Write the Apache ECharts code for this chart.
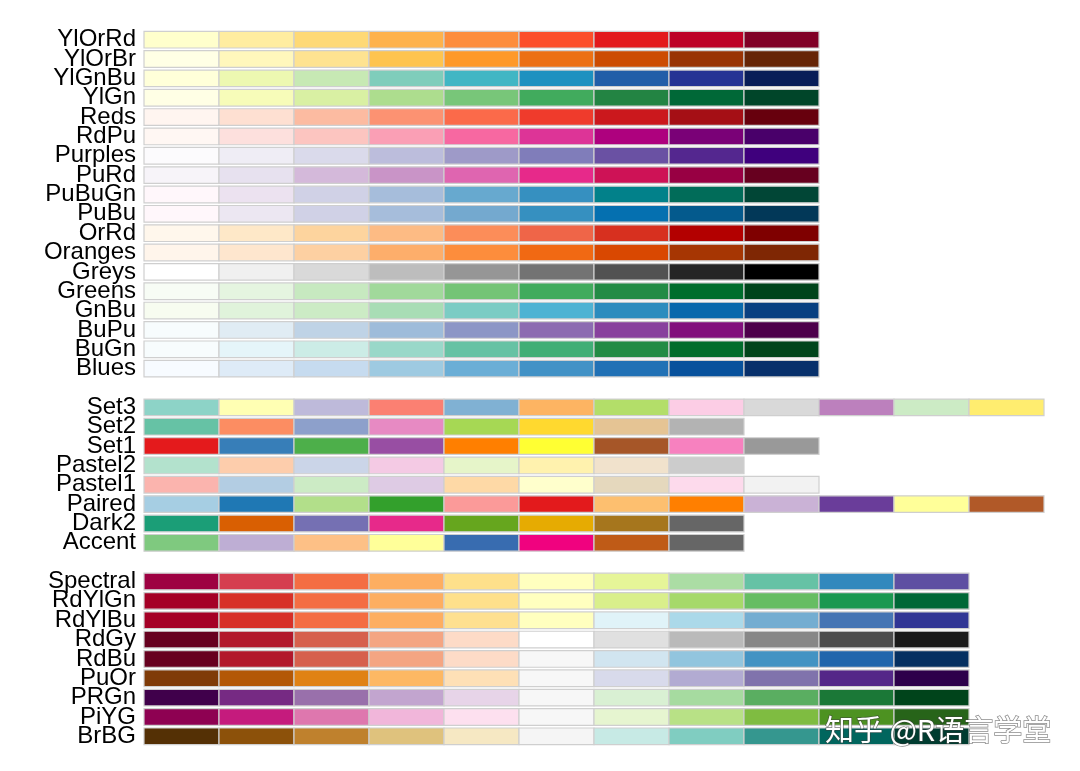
<!DOCTYPE html>
<html>
<head>
<meta charset="utf-8">
<script src="https://cdn.jsdelivr.net/npm/echarts@6/dist/echarts.min.js"></script>
<style>html,body{margin:0;background:#fff}#chart{width:1080px;height:771px}</style>
</head>
<body>
<div id="chart"></div>
<script>
// palette names in display order (top to bottom); blank strings are the gaps between groups
const rowNames = ['YlOrRd','YlOrBr','YlGnBu','YlGn','Reds','RdPu','Purples','PuRd','PuBuGn','PuBu','OrRd','Oranges','Greys','Greens','GnBu','BuPu','BuGn','Blues',
  ' ',
  'Set3','Set2','Set1','Pastel2','Pastel1','Paired','Dark2','Accent',
  '  ',
  'Spectral','RdYlGn','RdYlBu','RdGy','RdBu','PuOr','PRGn','PiYG','BrBG'];

const columns = ['1','2','3','4','5','6','7','8','9','10','11','12'];

const palettes = {
  YlOrRd: ['#FFFFCC','#FFEDA0','#FED976','#FEB24C','#FD8D3C','#FC4E2A','#E31A1C','#BD0026','#800026'],
  YlOrBr: ['#FFFFE5','#FFF7BC','#FEE391','#FEC44F','#FE9929','#EC7014','#CC4C02','#993404','#662506'],
  YlGnBu: ['#FFFFD9','#EDF8B1','#C7E9B4','#7FCDBB','#41B6C4','#1D91C0','#225EA8','#253494','#081D58'],
  YlGn: ['#FFFFE5','#F7FCB9','#D9F0A3','#ADDD8E','#78C679','#41AB5D','#238443','#006837','#004529'],
  Reds: ['#FFF5F0','#FEE0D2','#FCBBA1','#FC9272','#FB6A4A','#EF3B2C','#CB181D','#A50F15','#67000D'],
  RdPu: ['#FFF7F3','#FDE0DD','#FCC5C0','#FA9FB5','#F768A1','#DD3497','#AE017E','#7A0177','#49006A'],
  Purples: ['#FCFBFD','#EFEDF5','#DADAEB','#BCBDDC','#9E9AC8','#807DBA','#6A51A3','#54278F','#3F007D'],
  PuRd: ['#F7F4F9','#E7E1EF','#D4B9DA','#C994C7','#DF65B0','#E7298A','#CE1256','#980043','#67001F'],
  PuBuGn: ['#FFF7FB','#ECE2F0','#D0D1E6','#A6BDDB','#67A9CF','#3690C0','#02818A','#016C59','#014636'],
  PuBu: ['#FFF7FB','#ECE7F2','#D0D1E6','#A6BDDB','#74A9CF','#3690C0','#0570B0','#045A8D','#023858'],
  OrRd: ['#FFF7EC','#FEE8C8','#FDD49E','#FDBB84','#FC8D59','#EF6548','#D7301F','#B30000','#7F0000'],
  Oranges: ['#FFF5EB','#FEE6CE','#FDD0A2','#FDAE6B','#FD8D3C','#F16913','#D94801','#A63603','#7F2704'],
  Greys: ['#FFFFFF','#F0F0F0','#D9D9D9','#BDBDBD','#969696','#737373','#525252','#252525','#000000'],
  Greens: ['#F7FCF5','#E5F5E0','#C7E9C0','#A1D99B','#74C476','#41AB5D','#238B45','#006D2C','#00441B'],
  GnBu: ['#F7FCF0','#E0F3DB','#CCEBC5','#A8DDB5','#7BCCC4','#4EB3D3','#2B8CBE','#0868AC','#084081'],
  BuPu: ['#F7FCFD','#E0ECF4','#BFD3E6','#9EBCDA','#8C96C6','#8C6BB1','#88419D','#810F7C','#4D004B'],
  BuGn: ['#F7FCFD','#E5F5F9','#CCECE6','#99D8C9','#66C2A4','#41AE76','#238B45','#006D2C','#00441B'],
  Blues: ['#F7FBFF','#DEEBF7','#C6DBEF','#9ECAE1','#6BAED6','#4292C6','#2171B5','#08519C','#08306B'],
  Set3: ['#8DD3C7','#FFFFB3','#BEBADA','#FB8072','#80B1D3','#FDB462','#B3DE69','#FCCDE5','#D9D9D9','#BC80BD','#CCEBC5','#FFED6F'],
  Set2: ['#66C2A5','#FC8D62','#8DA0CB','#E78AC3','#A6D854','#FFD92F','#E5C494','#B3B3B3'],
  Set1: ['#E41A1C','#377EB8','#4DAF4A','#984EA3','#FF7F00','#FFFF33','#A65628','#F781BF','#999999'],
  Pastel2: ['#B3E2CD','#FDCDAC','#CBD5E8','#F4CAE4','#E6F5C9','#FFF2AE','#F1E2CC','#CCCCCC'],
  Pastel1: ['#FBB4AE','#B3CDE3','#CCEBC5','#DECBE4','#FED9A6','#FFFFCC','#E5D8BD','#FDDAEC','#F2F2F2'],
  Paired: ['#A6CEE3','#1F78B4','#B2DF8A','#33A02C','#FB9A99','#E31A1C','#FDBF6F','#FF7F00','#CAB2D6','#6A3D9A','#FFFF99','#B15928'],
  Dark2: ['#1B9E77','#D95F02','#7570B3','#E7298A','#66A61E','#E6AB02','#A6761D','#666666'],
  Accent: ['#7FC97F','#BEAED4','#FDC086','#FFFF99','#386CB0','#F0027F','#BF5B17','#666666'],
  Spectral: ['#9E0142','#D53E4F','#F46D43','#FDAE61','#FEE08B','#FFFFBF','#E6F598','#ABDDA4','#66C2A5','#3288BD','#5E4FA2'],
  RdYlGn: ['#A50026','#D73027','#F46D43','#FDAE61','#FEE08B','#FFFFBF','#D9EF8B','#A6D96A','#66BD63','#1A9850','#006837'],
  RdYlBu: ['#A50026','#D73027','#F46D43','#FDAE61','#FEE090','#FFFFBF','#E0F3F8','#ABD9E9','#74ADD1','#4575B4','#313695'],
  RdGy: ['#67001F','#B2182B','#D6604D','#F4A582','#FDDBC7','#FFFFFF','#E0E0E0','#BABABA','#878787','#4D4D4D','#1A1A1A'],
  RdBu: ['#67001F','#B2182B','#D6604D','#F4A582','#FDDBC7','#F7F7F7','#D1E5F0','#92C5DE','#4393C3','#2166AC','#053061'],
  PuOr: ['#7F3B08','#B35806','#E08214','#FDB863','#FEE0B6','#F7F7F7','#D8DAEB','#B2ABD2','#8073AC','#542788','#2D004B'],
  PRGn: ['#40004B','#762A83','#9970AB','#C2A5CF','#E7D4E8','#F7F7F7','#D9F0D3','#A6DBA0','#5AAE61','#1B7837','#00441B'],
  PiYG: ['#8E0152','#C51B7D','#DE77AE','#F1B6DA','#FDE0EF','#F7F7F7','#E6F5D0','#B8E186','#7FBC41','#4D9221','#276419'],
  BrBG: ['#543005','#8C510A','#BF812D','#DFC27D','#F6E8C3','#F5F5F5','#C7EAE5','#80CDC1','#35978F','#01665E','#003C30']
};

const cells = [];
rowNames.forEach(name => {
  (palettes[name] || []).forEach((c, i) => cells.push({ value: [i, name], color: c }));
});

const chart = echarts.init(document.getElementById('chart'));
chart.setOption({
  animation: false,
  grid: { left: 144, right: 36, top: 30, bottom: 25 },
  xAxis: { type: 'category', data: columns, show: false },
  yAxis: {
    type: 'category', data: rowNames, inverse: true,
    axisLine: { show: false }, axisTick: { show: false },
    axisLabel: { color: '#000', fontSize: 24, fontFamily: 'Liberation Sans, Arial', margin: 8, interval: 0 }
  },
  series: [{
    type: 'custom',
    data: cells,
    renderItem: (params, api) => {
      const p = api.coord([api.value(0), api.value(1)]);
      const s = api.size([1, 1]);
      const h = s[1] * 0.86;
      return {
        type: 'rect',
        shape: { x: p[0] - s[0] / 2, y: p[1] - h / 2, width: s[0], height: h },
        style: { fill: cells[params.dataIndex].color, stroke: '#cfcfcf', lineWidth: 1.2 }
      };
    }
  }],
  graphic: [{
    type: 'text', right: 28, bottom: 26, z: 100,
    style: { text: '知乎 @R语言学堂', fontSize: 29, fontFamily: 'Noto Sans CJK SC',
      fill: '#fff', stroke: 'rgba(60,60,60,0.6)', lineWidth: 1.5 }
  }]
});
</script>
</body>
</html>
